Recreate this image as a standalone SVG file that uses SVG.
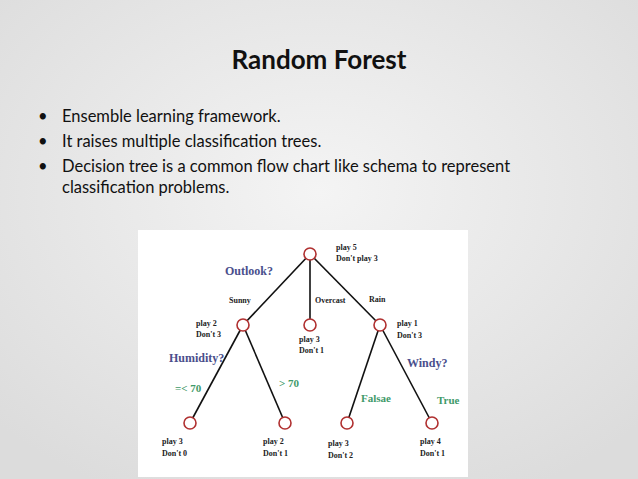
<svg xmlns="http://www.w3.org/2000/svg" width="638" height="479" viewBox="0 0 638 479">
<defs><radialGradient id="bg" cx="50%" cy="40%" r="70%"><stop offset="0" stop-color="#f4f4f4"/><stop offset="1" stop-color="#dcdcdc"/></radialGradient></defs>
<style>
.t{font-family:Lato,"Liberation Sans",sans-serif;fill:#111}
.s{font-family:"Liberation Serif",serif;font-weight:bold;font-size:8px;fill:#222}
.q{font-family:"Liberation Serif",serif;font-weight:bold;font-size:12px;fill:#4a4f8c}
.g{font-family:"Liberation Serif",serif;font-weight:bold;font-size:11px;fill:#3f9a6a}
.n{fill:#fff;stroke:#b03030;stroke-width:1.6}
.e{stroke:#111;stroke-width:1.6}
</style>
<rect width="638" height="479" fill="url(#bg)"/>
<text class="t" x="319" y="69" text-anchor="middle" font-size="26" font-weight="bold">Random Forest</text>
<g class="t" font-size="16.5">
<text x="38" y="122">•</text><text x="62" y="122">Ensemble learning framework.</text>
<text x="38" y="147">•</text><text x="62" y="147">It raises multiple classification trees.</text>
<text x="38" y="172">•</text><text x="62" y="172">Decision tree is a common flow chart like schema to represent</text>
<text x="62" y="193">classification problems.</text>
</g>
<rect x="138" y="230" width="330" height="247" fill="#fff"/>
<g id="edges">
<line class="e" x1="310" y1="254" x2="243" y2="325"/>
<line class="e" x1="310" y1="254" x2="310" y2="325"/>
<line class="e" x1="310" y1="254" x2="380" y2="325"/>
<line class="e" x1="243" y1="325" x2="190" y2="423"/>
<line class="e" x1="243" y1="325" x2="285" y2="423"/>
<line class="e" x1="380" y1="325" x2="347" y2="423"/>
<line class="e" x1="380" y1="325" x2="432" y2="423"/>
</g>
<g id="root"><circle class="n" cx="310" cy="254" r="6"/><text class="s" x="336" y="250">play 5</text><text class="s" x="336" y="261">Don't play 3</text></g>
<g id="sunny"><circle class="n" cx="243" cy="325" r="6"/><text class="s" x="196" y="326">play 2</text><text class="s" x="196" y="337">Don't 3</text></g>
<g id="overcast"><circle class="n" cx="310" cy="325" r="6"/><text class="s" x="299" y="342">play 3</text><text class="s" x="299" y="353">Don't 1</text></g>
<g id="rain"><circle class="n" cx="380" cy="325" r="6"/><text class="s" x="397" y="326">play 1</text><text class="s" x="397" y="338">Don't 3</text></g>
<g id="l1"><circle class="n" cx="190" cy="423" r="6"/><text class="s" x="162" y="444">play 3</text><text class="s" x="162" y="456">Don't 0</text></g>
<g id="l2"><circle class="n" cx="285" cy="423" r="6"/><text class="s" x="263" y="444">play 2</text><text class="s" x="263" y="456">Don't 1</text></g>
<g id="l3"><circle class="n" cx="347" cy="423" r="6"/><text class="s" x="328" y="446">play 3</text><text class="s" x="328" y="458">Don't 2</text></g>
<g id="l4"><circle class="n" cx="432" cy="423" r="6"/><text class="s" x="420" y="444">play 4</text><text class="s" x="420" y="456">Don't 1</text></g>
<text class="q" x="225" y="275">Outlook?</text>
<text class="q" x="169" y="362">Humidity?</text>
<text class="q" x="407" y="367">Windy?</text>
<text class="s" x="229" y="303">Sunny</text>
<text class="s" x="315" y="303">Overcast</text>
<text class="s" x="369" y="302">Rain</text>
<text class="g" x="175" y="392">=&lt; 70</text>
<text class="g" x="279" y="387">&gt; 70</text>
<text class="g" x="361" y="402">Falsae</text>
<text class="g" x="437" y="404">True</text>
</svg>
